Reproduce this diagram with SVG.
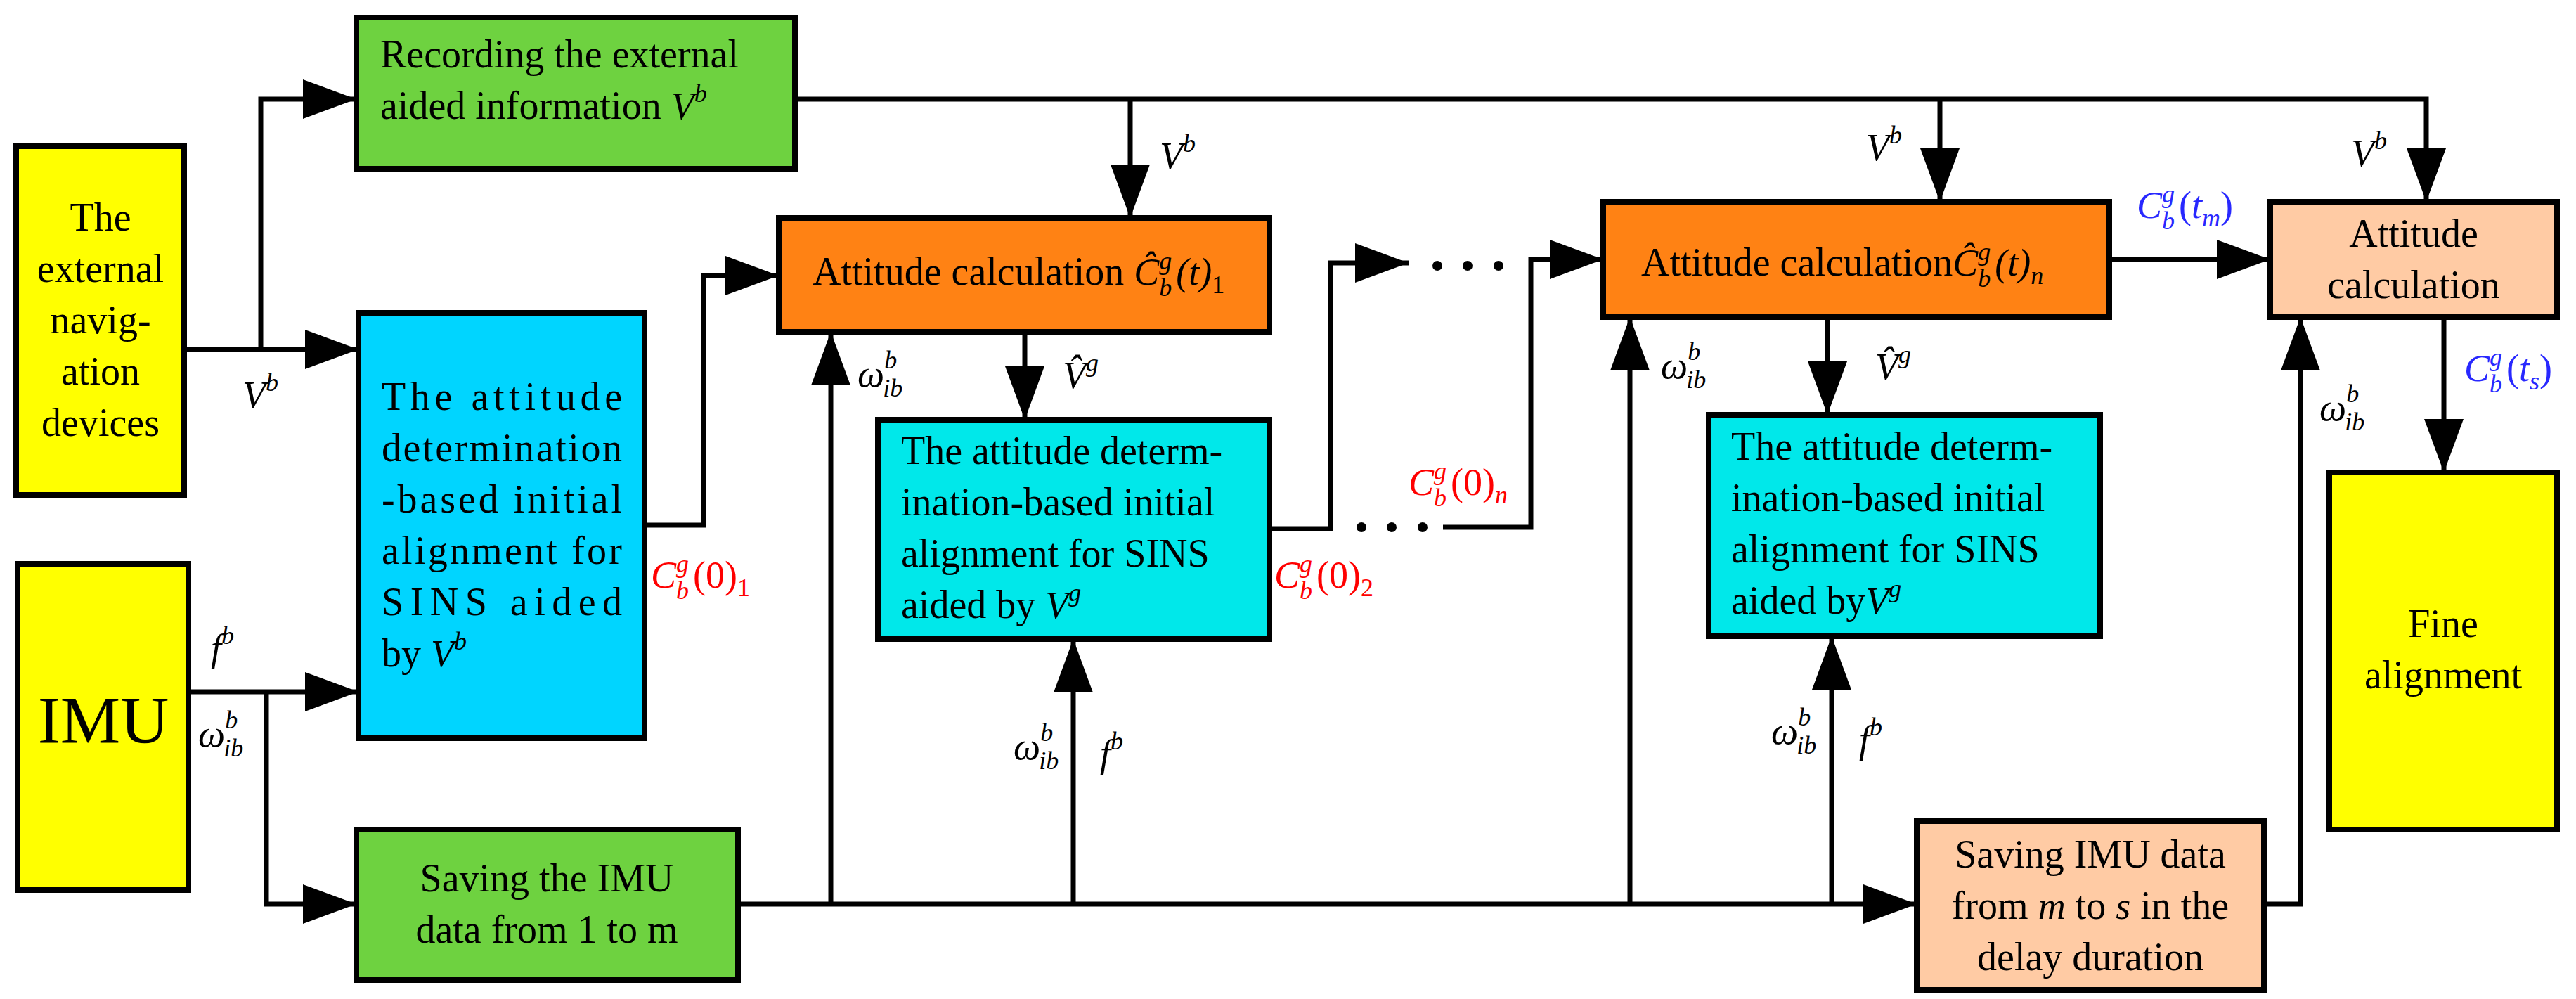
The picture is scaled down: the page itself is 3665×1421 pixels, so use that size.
<svg xmlns="http://www.w3.org/2000/svg" width="3665" height="1421" viewBox="0 0 3665 1421">
<defs>
<marker id="ar" markerUnits="userSpaceOnUse" markerWidth="80" markerHeight="60" refX="76" refY="28" orient="auto"><path d="M0,0 L76,28 L0,56 Z" fill="#000"/></marker>
<style>
.b{stroke:#000;stroke-width:8}
.t{font-family:"Liberation Serif","Times New Roman",serif;font-size:56px;fill:#000}
.m{font-family:"Liberation Serif","Times New Roman",serif;font-size:54px;font-style:italic;fill:#000}
.s{font-size:36px}
.n{font-style:normal}
.red{fill:#FF0000}
.blue{fill:#2828FF}
.c{stroke:#000;stroke-width:7;fill:none}
.ca{stroke:#000;stroke-width:7;fill:none;marker-end:url(#ar)}
</style>
</defs>
<rect width="3665" height="1421" fill="#fff"/>
<g id="ext"><rect class="b" x="23" y="208" width="239" height="496" fill="#FFFF00"/>
<text class="t" text-anchor="middle"><tspan x="143" y="328">The</tspan><tspan x="143" y="401">external</tspan><tspan x="143" y="474">navig-</tspan><tspan x="143" y="547">ation</tspan><tspan x="143" y="620">devices</tspan></text></g>
<g id="imu"><rect class="b" x="25" y="802" width="243" height="464" fill="#FFFF00"/>
<text class="t" x="147" y="1057" text-anchor="middle" style="font-size:96px">IMU</text></g>
<g id="rec"><rect class="b" x="507" y="25" width="624" height="215" fill="#6ED240"/>
<text class="t"><tspan x="541" y="96">Recording the external</tspan><tspan x="541" y="169">aided information </tspan><tspan class="m">V</tspan><tspan class="m s" dy="-24">b</tspan></text></g>
<g id="align1"><rect class="b" x="510" y="445" width="407" height="605" fill="#00D5FF"/>
<text class="t"><tspan x="543" y="583" textLength="342" lengthAdjust="spacing">The attitude</tspan><tspan x="543" y="656" textLength="342" lengthAdjust="spacing">determination</tspan><tspan x="543" y="729" textLength="342" lengthAdjust="spacing">-based initial</tspan><tspan x="543" y="802" textLength="342" lengthAdjust="spacing">alignment for</tspan><tspan x="543" y="875" textLength="342" lengthAdjust="spacing">SINS aided</tspan><tspan x="543" y="948">by </tspan><tspan class="m">V</tspan><tspan class="m s" dy="-24">b</tspan></text></g>
<g id="save1"><rect class="b" x="507" y="1180" width="543" height="214" fill="#6ED240"/>
<text class="t" text-anchor="middle"><tspan x="778" y="1268">Saving the IMU</tspan><tspan x="778" y="1341">data from 1 to m</tspan></text></g>
<g id="att1"><rect class="b" x="1108" y="310" width="698" height="162" fill="#FF8214"/>
<text class="t" x="1156" y="405">Attitude calculation <tspan class="m">Ĉ</tspan><tspan class="m s" dy="-22">g</tspan><tspan class="m s" dx="-18" dy="38">b</tspan><tspan class="m" dx="6" dy="-16">(t)</tspan><tspan class="s" dy="12">1</tspan></text></g>
<g id="align2"><rect class="b" x="1249" y="597" width="557" height="312" fill="#00E8EA"/>
<text class="t"><tspan x="1282" y="660">The attitude determ-</tspan><tspan x="1282" y="733">ination-based initial</tspan><tspan x="1282" y="806">alignment for SINS</tspan><tspan x="1282" y="879">aided by </tspan><tspan class="m">V</tspan><tspan class="m s" dy="-24">g</tspan></text></g>
<g id="att2"><rect class="b" x="2281" y="287" width="720" height="164" fill="#FF8214"/>
<text class="t" x="2335" y="392">Attitude calculation<tspan class="m">Ĉ</tspan><tspan class="m s" dy="-22">g</tspan><tspan class="m s" dx="-18" dy="38">b</tspan><tspan class="m" dx="6" dy="-16">(t)</tspan><tspan class="m s" dy="12">n</tspan></text></g>
<g id="align3"><rect class="b" x="2431" y="590" width="557" height="315" fill="#00E8EA"/>
<text class="t"><tspan x="2463" y="654">The attitude determ-</tspan><tspan x="2463" y="727">ination-based initial</tspan><tspan x="2463" y="800">alignment for SINS</tspan><tspan x="2463" y="873">aided by</tspan><tspan class="m">V</tspan><tspan class="m s" dy="-24">g</tspan></text></g>
<g id="att3"><rect class="b" x="3230" y="287" width="408" height="164" fill="#FFCBA4"/>
<text class="t" text-anchor="middle"><tspan x="3434" y="351">Attitude</tspan><tspan x="3434" y="424">calculation</tspan></text></g>
<g id="fine"><rect class="b" x="3314" y="672" width="324" height="508" fill="#FFFF00"/>
<text class="t" text-anchor="middle"><tspan x="3476" y="906">Fine</tspan><tspan x="3476" y="979">alignment</tspan></text></g>
<g id="save2"><rect class="b" x="2727" y="1168" width="494" height="240" fill="#FFCBA4"/>
<text class="t" text-anchor="middle"><tspan x="2974" y="1234">Saving IMU data</tspan><tspan x="2974" y="1307">from <tspan class="m">m</tspan> to <tspan class="m">s</tspan> in the</tspan><tspan x="2974" y="1380">delay duration</tspan></text></g>
<g id="connectors">
<path class="c" d="M262,497 H371"/><path class="ca" d="M371,497 H510"/>
<path class="ca" d="M371,497 V141 H507"/>
<path class="c" d="M268,984 H379"/><path class="ca" d="M379,984 H510"/>
<path class="ca" d="M379,984 V1286 H507"/>
<path class="ca" d="M1131,141 H3452 V287"/>
<path class="ca" d="M1608,141 V310"/>
<path class="ca" d="M2760,141 V287"/>
<path class="ca" d="M917,747 H1001 V392 H1108"/>
<path class="ca" d="M1050,1286 H2727"/>
<path class="ca" d="M1182,1286 V472"/>
<path class="ca" d="M1527,1286 V909"/>
<path class="ca" d="M2319,1286 V451"/>
<path class="ca" d="M2606,1286 V905"/>
<path class="ca" d="M1458,472 V597"/>
<path class="ca" d="M1806,752 H1893 V374 H2004"/>
<path class="ca" d="M2053,750 H2178 V369 H2281"/>
<path class="ca" d="M2600,451 V590"/>
<path class="ca" d="M3001,369 H3230"/>
<path class="ca" d="M3477,451 V672"/>
<path class="ca" d="M3221,1286 H3273 V451"/>
<g fill="#000"><circle cx="2045" cy="378" r="7"/><circle cx="2088" cy="378" r="7"/><circle cx="2132" cy="378" r="7"/>
<circle cx="1937" cy="750" r="7"/><circle cx="1980" cy="750" r="7"/><circle cx="2024" cy="750" r="7"/></g>
</g>
<g id="labels">
<text class="m" x="345" y="580">V<tspan class="s" dy="-24">b</tspan></text>
<text class="m" x="300" y="940">f<tspan class="s" dy="-24">b</tspan></text>
<text class="m" x="282" y="1062">ω<tspan class="s" dy="-26">b</tspan><tspan class="s" dx="-20" dy="40">ib</tspan></text>
<text class="m red" x="926" y="836">C<tspan class="s" dy="-22">g</tspan><tspan class="s" dx="-18" dy="38">b</tspan><tspan class="n" dx="6" dy="-16">(0)</tspan><tspan class="s n" dy="12">1</tspan></text>
<text class="m red" x="1813" y="836">C<tspan class="s" dy="-22">g</tspan><tspan class="s" dx="-18" dy="38">b</tspan><tspan class="n" dx="6" dy="-16">(0)</tspan><tspan class="s n" dy="12">2</tspan></text>
<text class="m red" x="2004" y="704">C<tspan class="s" dy="-22">g</tspan><tspan class="s" dx="-18" dy="38">b</tspan><tspan class="n" dx="6" dy="-16">(0)</tspan><tspan class="s" dy="12">n</tspan></text>
<text class="m" x="1650" y="240">V<tspan class="s" dy="-24">b</tspan></text>
<text class="m" x="2655" y="228">V<tspan class="s" dy="-24">b</tspan></text>
<text class="m" x="3345" y="236">V<tspan class="s" dy="-24">b</tspan></text>
<text class="m" x="1220" y="550">ω<tspan class="s" dy="-26">b</tspan><tspan class="s" dx="-20" dy="40">ib</tspan></text>
<text class="m" x="2363" y="538">ω<tspan class="s" dy="-26">b</tspan><tspan class="s" dx="-20" dy="40">ib</tspan></text>
<text class="m" x="3300" y="598">ω<tspan class="s" dy="-26">b</tspan><tspan class="s" dx="-20" dy="40">ib</tspan></text>
<text class="m" x="1442" y="1080">ω<tspan class="s" dy="-26">b</tspan><tspan class="s" dx="-20" dy="40">ib</tspan></text>
<text class="m" x="2520" y="1058">ω<tspan class="s" dy="-26">b</tspan><tspan class="s" dx="-20" dy="40">ib</tspan></text>
<text class="m" x="1565" y="1090">f<tspan class="s" dy="-24">b</tspan></text>
<text class="m" x="2645" y="1070">f<tspan class="s" dy="-24">b</tspan></text>
<text class="m" x="1512" y="552">V̂<tspan class="s" dy="-24">g</tspan></text>
<text class="m" x="2668" y="540">V̂<tspan class="s" dy="-24">g</tspan></text>
<text class="m blue" x="3040" y="310">C<tspan class="s" dy="-22">g</tspan><tspan class="s" dx="-18" dy="38">b</tspan><tspan class="n" dx="6" dy="-16">(</tspan>t<tspan class="s" dy="12">m</tspan><tspan class="n" dy="-12">)</tspan></text>
<text class="m blue" x="3506" y="542">C<tspan class="s" dy="-22">g</tspan><tspan class="s" dx="-18" dy="38">b</tspan><tspan class="n" dx="6" dy="-16">(</tspan>t<tspan class="s" dy="12">s</tspan><tspan class="n" dy="-12">)</tspan></text>
</g>
</svg>
